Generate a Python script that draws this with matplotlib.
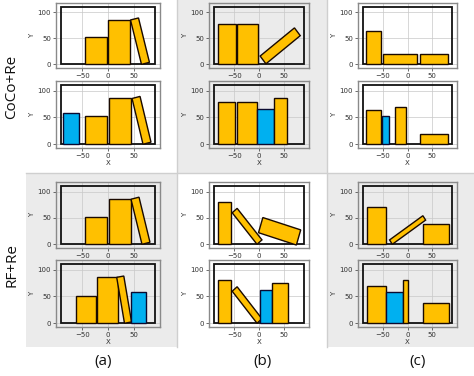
import matplotlib
matplotlib.use("Agg")
import matplotlib.pyplot as plt
from matplotlib.patches import Rectangle

# ---------------- data ----------------
# each box: (x, y, width, height, angle_deg, kind)   kind: 'Y' yellow, 'B' blue
coco_a_top = [(-44, 0, 42, 52, 0, 'Y'), (0, 0, 43, 86, 0, 'Y'), (65, 0, 16, 88, 14, 'Y')]
coco_a_bot = [(-87, 0, 31, 58, 0, 'B'), (-44, 0, 42, 52, 0, 'Y'), (1, 0, 43, 86, 0, 'Y'),
              (68, 0, 16, 88, 14, 'Y')]
coco_b_top = [(-83, 0, 36, 78, 0, 'Y'), (-44, 0, 41, 78, 0, 'Y'), (14, 1, 88, 19, 38, 'Y')]
coco_b_bot = [(-83, 0, 34, 78, 0, 'Y'), (-44, 0, 39, 78, 0, 'Y'), (-5, 0, 36, 66, 0, 'B'),
              (31, 0, 25, 87, 0, 'Y')]
coco_c_top = [(-84, 0, 29, 64, 0, 'Y'), (-51, 0, 71, 19, 0, 'Y'), (26, 0, 57, 19, 0, 'Y')]
coco_c_bot = [(-84, 0, 29, 64, 0, 'Y'), (-53, 0, 16, 53, 0, 'B'), (-25, 0, 21, 69, 0, 'Y'),
              (26, 0, 57, 19, 0, 'Y')]
rf_a_top = [(-44, 0, 43, 52, 0, 'Y'), (1, 0, 43, 86, 0, 'Y'), (66, 0, 16, 88, 14, 'Y')]
rf_a_bot = [(-63, 0, 40, 51, 0, 'Y'), (-22, 0, 41, 86, 0, 'Y'), (32, 0, 14, 87, 10, 'Y'),
            (45, 0, 29, 59, 0, 'B')]
rf_b_top = [(-83, 0, 27, 81, 0, 'Y'), (-4, 0, 13, 78, 40, 'Y'), (-1, 22, 80, 30, -17, 'Y')]
rf_b_bot = [(-83, 0, 27, 81, 0, 'Y'), (-4, 0, 13, 78, 40, 'Y'), (3, 0, 23, 62, 0, 'B'),
            (26, 0, 32, 76, 0, 'Y')]
rf_c_top = [(-83, 0, 40, 70, 0, 'Y'), (-31, 0, 82, 10, 34, 'Y'), (32, 0, 52, 38, 0, 'Y')]
rf_c_bot = [(-83, 0, 40, 70, 0, 'Y'), (-43, 0, 33, 58, 0, 'B'), (-10, 0, 10, 81, 0, 'Y'),
            (32, 0, 52, 38, 0, 'Y')]

container = (-91, 0, 182, 110)   # x, y, width, height of the bin
x_ticks = [-50, 0, 50]
y_ticks = [0, 50, 100]
row_labels = ["CoCo+Re", "RF+Re"]
col_labels = ["(a)", "(b)", "(c)"]

panels = [
    [(coco_a_top, coco_a_bot), (coco_b_top, coco_b_bot), (coco_c_top, coco_c_bot)],
    [(rf_a_top, rf_a_bot), (rf_b_top, rf_b_bot), (rf_c_top, rf_c_bot)],
]

# ---------------- layout ----------------
W, H = 474, 376
fig = plt.figure(figsize=(W / 100, H / 100), dpi=100)
fig.patch.set_facecolor("white")

GRAY = "#ebebeb"
LINE = "#cfcfcf"
# cell backgrounds: (x0, y0, x1, y1, gray?)
cells = [
    (0, 0, 177, 173, False), (177, 0, 327, 173, True), (327, 0, 474, 173, False),
    (26, 173, 177, 347, True), (177, 173, 327, 347, False), (327, 173, 474, 347, True),
]
for x0, y0, x1, y1, g in cells:
    if g:
        fig.add_artist(Rectangle((x0 / W, 1 - y1 / H), (x1 - x0) / W, (y1 - y0) / H,
                                 transform=fig.transFigure, facecolor=GRAY,
                                 edgecolor="none", zorder=0))
# separator lines
for xl in (177, 327):
    fig.add_artist(plt.Line2D([xl / W, xl / W], [1 - 347 / H, 1.0], transform=fig.transFigure,
                              color=LINE, lw=1.0, zorder=0.5))
fig.add_artist(plt.Line2D([26 / W, 1.0], [1 - 173 / H, 1 - 173 / H], transform=fig.transFigure,
                          color=LINE, lw=1.0, zorder=0.5))

col_x = [(56, 160), (209, 309), (358, 457)]
row_y = [[(3, 68), (81, 148)], [(182, 248), (260, 327)]]

COLORS = {'Y': "#FFC000", 'B': "#00B0F0"}
EDGES = {'Y': "#1a0a00", 'B': "#0a0a30"}


def draw_panel(ax, boxes, show_xlabel):
    ax.set_facecolor("none")
    ax.set_xlim(-101, 101)
    ax.set_ylim(-7, 118)
    ax.set_xticks(x_ticks)
    ax.set_yticks(y_ticks)
    ax.grid(True, color="#c8c8c8", lw=0.5)
    ax.set_axisbelow(True)
    for s in ax.spines.values():
        s.set_color("#8a8a8a")
        s.set_linewidth(1.0)
    ax.tick_params(labelsize=5, length=2, width=0.5, pad=1.5, colors="#333333")
    ax.set_ylabel("Y", fontsize=5, labelpad=2, color="#333333")
    if show_xlabel:
        ax.set_xlabel("X", fontsize=5, labelpad=1, color="#333333")
    cx, cy, cw, chh = container
    ax.add_patch(Rectangle((cx, cy), cw, chh, fill=False, edgecolor="#111111", lw=1.3, zorder=2))
    for (x, y, w, h, a, k) in boxes:
        ax.add_patch(Rectangle((x, y), w, h, angle=a, facecolor=COLORS[k],
                               edgecolor=EDGES[k], lw=1.0, zorder=3))


for r in range(2):
    for c in range(3):
        x0, x1 = col_x[c]
        for i in range(2):
            y0, y1 = row_y[r][i]
            ax = fig.add_axes([x0 / W, 1 - y1 / H, (x1 - x0) / W, (y1 - y0) / H])
            draw_panel(ax, panels[r][c][i], show_xlabel=(i == 1))

fig.text(12 / W, 1 - 87 / H, row_labels[0], rotation=90, ha="center", va="center",
         fontsize=11, family="Open Sans", color="#111111")
fig.text(12 / W, 1 - 265 / H, row_labels[1], rotation=90, ha="center", va="center",
         fontsize=11, family="Open Sans", color="#111111")
for c, lab in enumerate(col_labels):
    xc = [103, 262, 418][c]
    fig.text(xc / W, 1 - 362 / H, lab, ha="center", va="center", fontsize=11,
             family="Open Sans", color="#111111")

fig.savefig("out.png", dpi=100)
